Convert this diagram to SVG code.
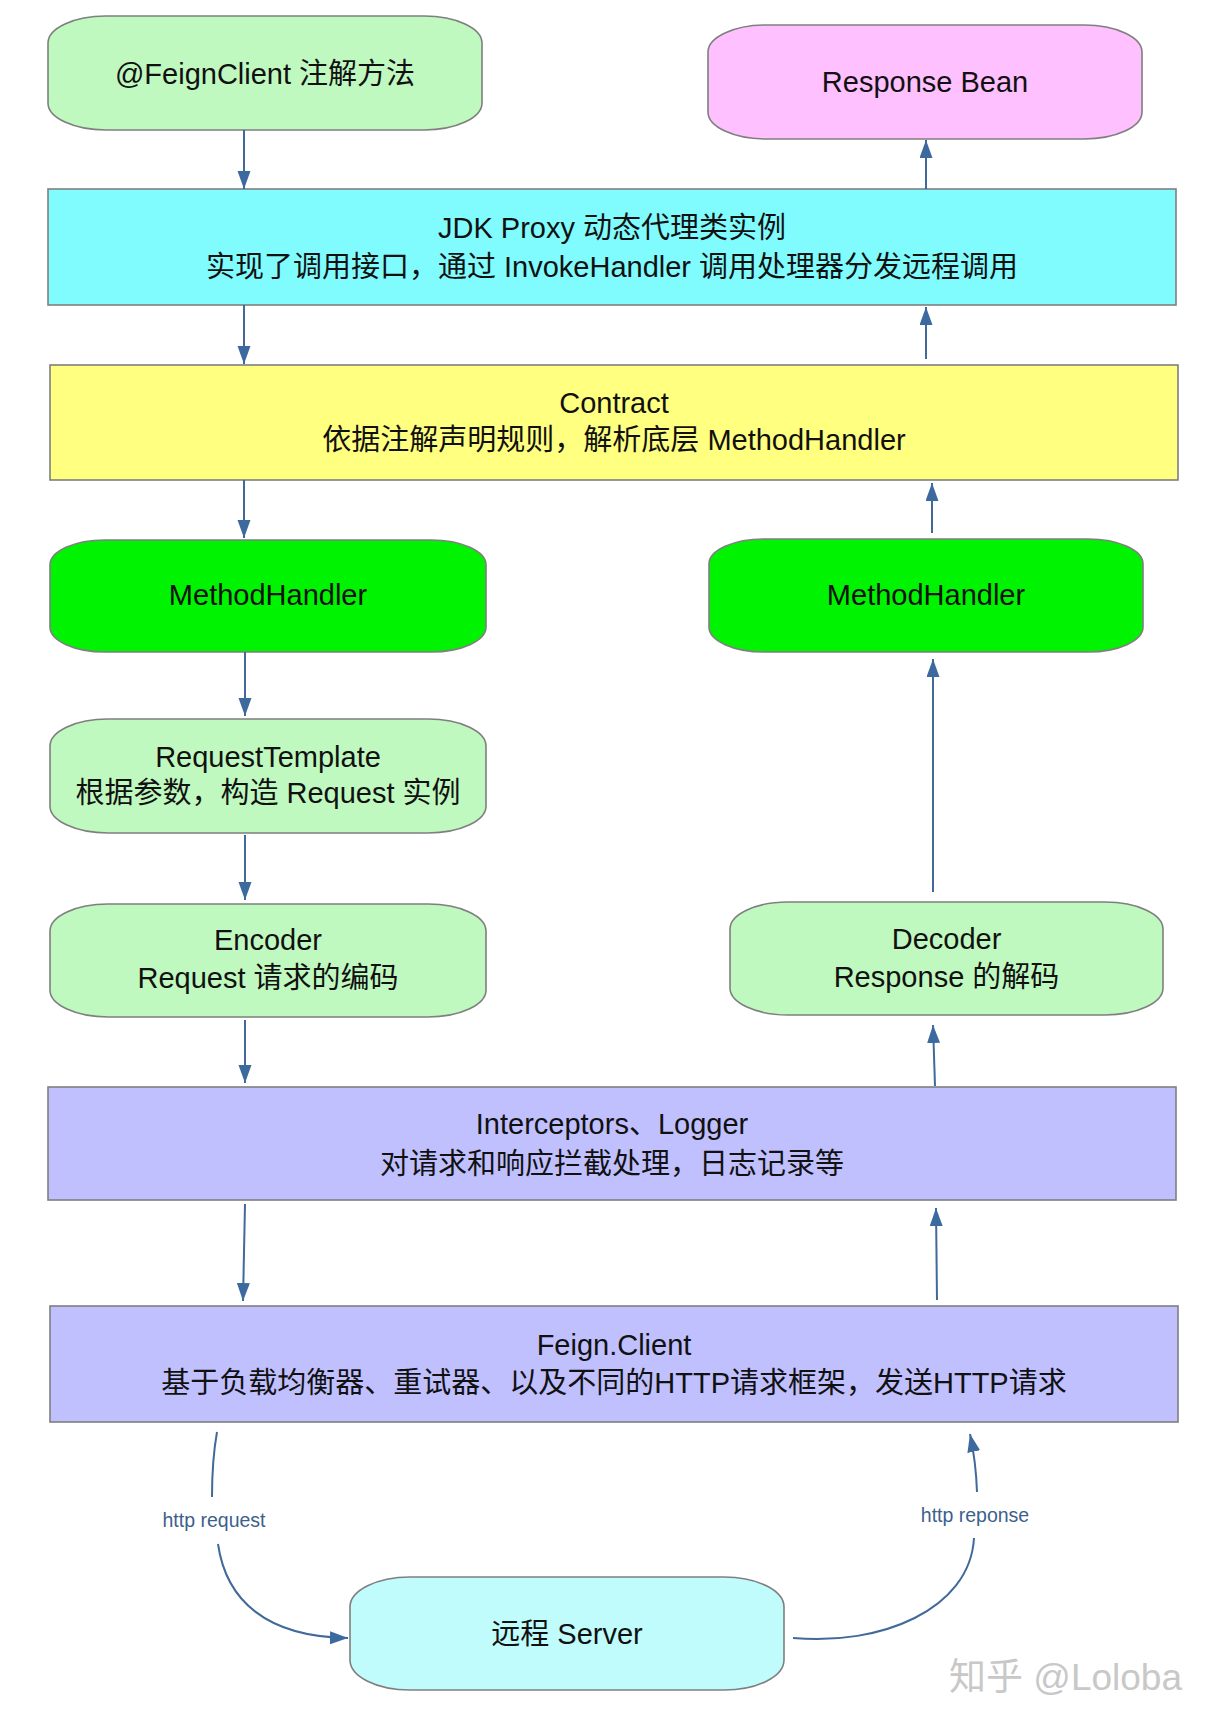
<svg xmlns="http://www.w3.org/2000/svg" width="1213" height="1727" viewBox="0 0 1213 1727">
<style>
.box{stroke:#7f7f7f;stroke-width:1.6}
.t{font-family:"Liberation Sans","Noto Sans CJK SC",sans-serif;font-size:29px;fill:#111;text-anchor:middle}
.lbl{font-family:"Liberation Sans","Noto Sans CJK SC",sans-serif;font-size:19.5px;fill:#3d5f8c;text-anchor:middle}
.c{fill:none;stroke:#41699a;stroke-width:2}
.green{fill:#c0f9c0}
.pink{fill:#ffc0ff}
.cyan{fill:#80fcff}
.yellow{fill:#ffff80}
.lime{fill:#00f300}
.lav{fill:#c0c0ff}
.lcyan{fill:#c0fcfc}
.wm{font-family:"Liberation Sans","Noto Sans CJK SC",sans-serif;font-size:37px;fill:#c8c8c8;text-anchor:end}
</style>
<defs>
<marker id="ah" markerUnits="userSpaceOnUse" markerWidth="20" markerHeight="14" refX="18" refY="6.5" orient="auto">
<path d="M0,0 L18,6.5 L0,13 Z" fill="#3d6a9e"/>
</marker>
</defs>
<rect width="1213" height="1727" fill="#ffffff"/>

<g id="feignclient">
<rect class="box green" x="48" y="16" width="434" height="114" rx="58" ry="27"/>
<text class="t" x="265" y="84">@FeignClient 注解方法</text>
</g>
<g id="response-bean">
<rect class="box pink" x="708" y="25" width="434" height="114" rx="58" ry="27"/>
<text class="t" x="925" y="92">Response Bean</text>
</g>
<g id="jdk-proxy">
<rect class="box cyan" x="48" y="189" width="1128" height="116"/>
<text class="t" x="612" y="238">JDK Proxy 动态代理类实例</text>
<text class="t" x="612" y="277">实现了调用接口，通过 InvokeHandler 调用处理器分发远程调用</text>
</g>
<g id="contract">
<rect class="box yellow" x="50" y="365" width="1128" height="115"/>
<text class="t" x="614" y="413">Contract</text>
<text class="t" x="614" y="450">依据注解声明规则，解析底层 MethodHandler</text>
</g>
<g id="methodhandler-left">
<rect class="box lime" x="50" y="540" width="436" height="112" rx="55" ry="25"/>
<text class="t" x="268" y="605">MethodHandler</text>
</g>
<g id="methodhandler-right">
<rect class="box lime" x="709" y="539" width="434" height="113" rx="55" ry="25"/>
<text class="t" x="926" y="605">MethodHandler</text>
</g>
<g id="requesttemplate">
<rect class="box green" x="50" y="719" width="436" height="114" rx="58" ry="27"/>
<text class="t" x="268" y="767">RequestTemplate</text>
<text class="t" x="268" y="803">根据参数，构造 Request 实例</text>
</g>
<g id="encoder">
<rect class="box green" x="50" y="904" width="436" height="113" rx="58" ry="27"/>
<text class="t" x="268" y="950">Encoder</text>
<text class="t" x="268" y="988">Request 请求的编码</text>
</g>
<g id="decoder">
<rect class="box green" x="730" y="902" width="433" height="113" rx="58" ry="27"/>
<text class="t" x="946.5" y="949">Decoder</text>
<text class="t" x="946.5" y="987">Response 的解码</text>
</g>
<g id="interceptors">
<rect class="box lav" x="48" y="1087" width="1128" height="113"/>
<text class="t" x="612" y="1134">Interceptors、Logger</text>
<text class="t" x="612" y="1174">对请求和响应拦截处理，日志记录等</text>
</g>
<g id="feign-client">
<rect class="box lav" x="50" y="1306" width="1128" height="116"/>
<text class="t" x="614" y="1355">Feign.Client</text>
<text class="t" x="614" y="1393">基于负载均衡器、重试器、以及不同的HTTP请求框架，发送HTTP请求</text>
</g>
<g id="remote-server">
<rect class="box lcyan" x="350" y="1577" width="434" height="113" rx="60" ry="30"/>
<text class="t" x="567" y="1644">远程 Server</text>
</g>

<g id="connectors">
<path class="c" d="M244,130 L244,189" marker-end="url(#ah)"/>
<path class="c" d="M926,189 L926,140" marker-end="url(#ah)"/>
<path class="c" d="M244,305 L244,364" marker-end="url(#ah)"/>
<path class="c" d="M926,359 L926,307" marker-end="url(#ah)"/>
<path class="c" d="M244,480 L244,538" marker-end="url(#ah)"/>
<path class="c" d="M932,533 L932,483" marker-end="url(#ah)"/>
<path class="c" d="M245,652 L245,716" marker-end="url(#ah)"/>
<path class="c" d="M933,892 L933,659" marker-end="url(#ah)"/>
<path class="c" d="M245,835 L245,900" marker-end="url(#ah)"/>
<path class="c" d="M245,1020 L245,1083" marker-end="url(#ah)"/>
<path class="c" d="M935,1086 L933,1025" marker-end="url(#ah)"/>
<path class="c" d="M245,1204 L243,1301" marker-end="url(#ah)"/>
<path class="c" d="M937,1300 L936,1208" marker-end="url(#ah)"/>
<path class="c" d="M217,1432 Q212,1460 212,1497"/>
<path class="c" d="M218,1544 C226,1600 266,1637 348,1638" marker-end="url(#ah)"/>
<text class="lbl" x="214" y="1527">http request</text>
<path class="c" d="M793,1638 C880,1646 970,1610 974,1538"/>
<path class="c" d="M977,1492 Q976,1462 970,1434" marker-end="url(#ah)"/>
<text class="lbl" x="975" y="1522">http reponse</text>
</g>

<text class="wm" x="1182" y="1690">知乎 @Loloba</text>
</svg>
